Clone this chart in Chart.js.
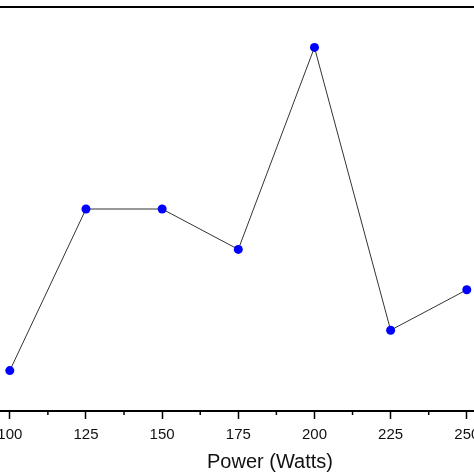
<!DOCTYPE html>
<html>
<head>
<meta charset="utf-8">
<script src="https://cdn.jsdelivr.net/npm/chart.js@4"></script>
<style>
  html, body { margin: 0; padding: 0; background: #fff; overflow: hidden; width: 474px; height: 474px; }
  #wrap { position: absolute; left: -40px; top: 0; width: 620px; height: 474px; }
</style>
</head>
<body>
<div id="wrap"><canvas id="powerChart" width="620" height="474"></canvas></div>
<script>
// data
const power = [100, 125, 150, 175, 200, 225, 250];
const response = [10, 50, 50, 40, 90, 20, 30];

const majorTicks = [100, 125, 150, 175, 200, 225, 250];
const minorTicks = [87.5, 112.5, 137.5, 162.5, 187.5, 212.5, 237.5, 262.5];

// small minor tick marks below the x axis
const minorTickPlugin = {
    id: 'minorTicks',
    afterDraw(chart) {
        const xs = chart.scales.x;
        const c = chart.ctx;
        c.save();
        c.strokeStyle = '#000';
        c.lineWidth = 1.5;
        minorTicks.forEach(v => {
            const px = xs.getPixelForValue(v);
            c.beginPath();
            c.moveTo(px, xs.top);
            c.lineTo(px, xs.top + 4);
            c.stroke();
        });
        c.restore();
    }
};

const points = power.map((p, i) => ({ x: p, y: response[i] }));

const ctx = document.getElementById('powerChart');

const powerChart = new Chart(ctx, {
    type: 'line',
    data: {
        datasets: [{
            data: points,
            borderColor: '#333',
            borderWidth: 1,
            tension: 0,
            pointRadius: 4.5,
            pointBorderWidth: 0,
            pointBackgroundColor: '#0000ff',
            pointBorderColor: '#0000ff'
        }]
    },
    options: {
        responsive: false,
        animation: false,
        devicePixelRatio: 1,
        layout: { padding: 0 },
        plugins: {
            legend: { display: false },
            tooltip: { enabled: false }
        },
        scales: {
            x: {
                type: 'linear',
                position: 'bottom',
                min: 85.13,
                max: 285.68,
                afterBuildTicks: scale => {
                    scale.ticks = majorTicks.map(v => ({ value: v }));
                },
                afterFit: scale => {
                    scale.height = 63;
                    scale.paddingLeft = 0;
                    scale.paddingRight = 0;
                },
                grid: {
                    drawOnChartArea: false,
                    drawTicks: true,
                    tickLength: 8,
                    tickWidth: 1.5,
                    tickColor: '#000'
                },
                border: { display: true, color: '#000', width: 2 },
                ticks: {
                    color: '#111',
                    padding: 7,
                    maxRotation: 0,
                    autoSkip: false,
                    font: { family: 'Liberation Sans', size: 15 }
                },
                title: {
                    display: true,
                    text: 'Power (Watts)',
                    color: '#111',
                    padding: { top: 0, bottom: 0 },
                    font: { family: 'Liberation Sans', size: 20 }
                }
            },
            x2: {
                type: 'linear',
                position: 'top',
                min: 85.13,
                max: 285.68,
                afterFit: scale => {
                    scale.height = 7;
                    scale.paddingLeft = 0;
                    scale.paddingRight = 0;
                },
                grid: { display: false, drawTicks: false },
                ticks: { display: false },
                border: { display: true, color: '#000', width: 2 }
            },
            y: {
                display: false,
                min: 0,
                max: 100
            }
        }
    },
    plugins: [minorTickPlugin]
});
</script>
</body>
</html>
